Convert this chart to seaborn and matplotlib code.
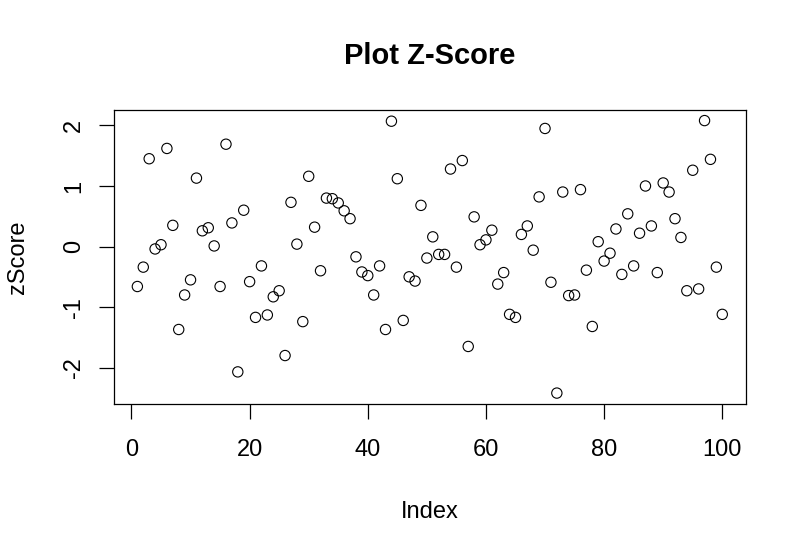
import numpy as np
import pandas as pd
import matplotlib
matplotlib.use("Agg")
import matplotlib.pyplot as plt
import seaborn as sns

index = list(range(1, 101))
z_score = [
    -0.66, -0.34, 1.45, -0.04, 0.03, 1.62, 0.35, -1.37, -0.80, -0.55,
    1.13, 0.26, 0.31, 0.01, -0.66, 1.69, 0.39, -2.07, 0.60, -0.58,
    -1.17, -0.32, -1.13, -0.83, -0.73, -1.80, 0.73, 0.04, -1.24, 1.16,
    0.32, -0.40, 0.80, 0.79, 0.72, 0.59, 0.46, -0.17, -0.42, -0.48,
    -0.80, -0.32, -1.37, 2.07, 1.12, -1.22, -0.50, -0.57, 0.68, -0.19,
    0.16, -0.13, -0.13, 1.28, -0.34, 1.42, -1.65, 0.49, 0.03, 0.11,
    0.27, -0.62, -0.43, -1.12, -1.17, 0.20, 0.34, -0.06, 0.82, 1.95,
    -0.59, -2.42, 0.90, -0.81, -0.80, 0.94, -0.39, -1.32, 0.08, -0.24,
    -0.11, 0.29, -0.46, 0.54, -0.32, 0.22, 1.00, 0.34, -0.43, 1.05,
    0.90, 0.46, 0.15, -0.73, 1.26, -0.70, 2.08, 1.44, -0.34, -1.12,
]
x_ticks = [0, 20, 40, 60, 80, 100]
y_ticks = [-2, -1, 0, 1, 2]

df = pd.DataFrame({"Index": index, "zScore": z_score})

sns.set_style("white")
plt.rcParams["font.family"] = ["Liberation Sans", "DejaVu Sans"]
plt.rcParams["text.color"] = "black"
plt.rcParams["axes.labelcolor"] = "black"

fig = plt.figure(figsize=(7.97, 5.39), dpi=100)
ax = fig.add_axes([0.143, 0.2505, 0.9356 - 0.143, 0.7965 - 0.2505])

sns.scatterplot(data=df, x="Index", y="zScore", ax=ax, s=55, marker="o",
                linewidth=0.8, legend=False)
pts = ax.collections[0]
pts.set_facecolor("none")
pts.set_edgecolor("black")

rng_x = max(index) - min(index)
ax.set_xlim(min(index) - 0.04 * rng_x, max(index) + 0.04 * rng_x)
rng_y = max(z_score) - min(z_score)
ax.set_ylim(min(z_score) - 0.04 * rng_y, max(z_score) + 0.04 * rng_y)

ax.set_xticks(x_ticks)
ax.set_yticks(y_ticks)
ax.set_xticklabels([str(t) for t in x_ticks])
ax.set_yticklabels([str(t) for t in y_ticks], rotation=90, va="center")

for sp in ax.spines.values():
    sp.set_visible(True)
    sp.set_color("black")
    sp.set_linewidth(0.9)

ax.tick_params(axis="both", direction="out", length=11, width=0.9,
               color="black", labelsize=17, labelcolor="black",
               bottom=True, left=True)
ax.tick_params(axis="x", pad=14)
ax.tick_params(axis="y", pad=10)

ax.set_xlabel("Index", fontsize=17, labelpad=29, color="black")
ax.set_ylabel("zScore", fontsize=17, labelpad=24, color="black")
ax.set_title("Plot Z-Score", fontsize=21, fontweight="bold", pad=33,
             color="black")

fig.savefig("out.png", dpi=100, facecolor="white")
